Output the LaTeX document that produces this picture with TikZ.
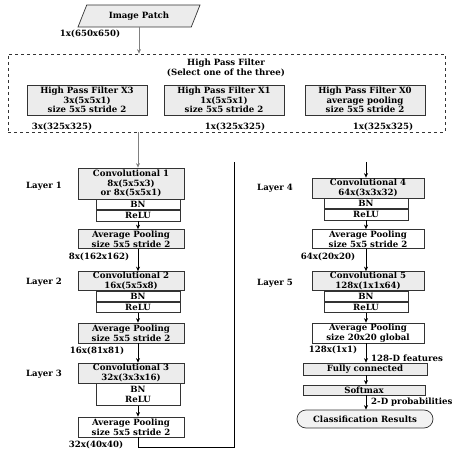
\documentclass[tikz,border=0pt]{standalone}
\usepackage{fontspec}
\setmainfont{DejaVu Serif}
\usetikzlibrary{arrows.meta, positioning, shapes.geometric}

\begin{document}
\begin{tikzpicture}[x=1pt, y=-1pt, font=\bfseries\fontsize{8.6}{9.6}\selectfont,
    box/.style={draw=black!80, line width=0.7pt, rectangle, fill=gray!15, minimum width=106pt, align=center, inner sep=0.5pt},
    sub/.style={draw=black!80, line width=0.7pt, rectangle, fill=white, minimum width=84pt, minimum height=10.5pt, inner sep=0pt, align=center},
    arr/.style={-{Stealth[length=4.5pt, width=4pt]}, line width=0.8pt},
    lab/.style={inner sep=0pt}]
    \useasboundingbox (0,0) rectangle (474,449);

    % 输入
    \node[draw=black!80, line width=0.7pt, trapezium, trapezium left angle=60, trapezium right angle=120,
        trapezium stretches body, fill=gray!15, minimum width=122pt, minimum height=22pt] (patch) at (139,16) {Image Patch};
    \node[lab] (insize) at (90,34) {1x(650x650)};

    % 高通滤波
    \node[draw=black!80, dashed, line width=0.7pt, minimum width=437pt, minimum height=78pt] (hpf) at (226.5,93) {};
    \node[lab, align=center] (hpftitle) at (226,68) {High Pass Filter\\(Select one of the three)};
    \foreach \n/\x/\t in {X3/87/3x(5x5x1), X1/224/1x(5x5x1), X0/365/average pooling} {
        \node[box, minimum width=120pt, minimum height=30pt] (hp\n) at (\x,100) {High Pass Filter \n\\\t\\size 5x5 stride 2};
    }
    \foreach \x/\t [count=\i] in {62/3x(325x325), 235/1x(325x325), 383/1x(325x325)} {
        \node[lab] (hpout\i) at (\x,127) {\t};
    }
    \draw[arr, gray] (patch.south) -- (patch.south |- hpf.north);

    % 左列
    \node[box, minimum height=31pt] (conv1) at (131,183.5) {Convolutional 1\\8x(5x5x3)\\or 8x(5x5x1)};
    \node[sub, anchor=north] (bn1) at (138,199) {BN};
    \node[sub, below=0pt of bn1] (relu1) {ReLU};
    \node[box, minimum height=19pt] (pool1) at (131,239) {Average Pooling\\size 5x5 stride 2};
    \node[lab] (out1) at (99,257) {8x(162x162)};

    \node[box, minimum height=19pt] (conv2) at (131,281) {Convolutional 2\\16x(5x5x8)};
    \node[sub, anchor=north] (bn2) at (138,290.5) {BN};
    \node[sub, below=0pt of bn2] (relu2) {ReLU};
    \node[box, minimum height=20pt] (pool2) at (131,333) {Average Pooling\\size 5x5 stride 2};
    \node[lab] (out2) at (97,351) {16x(81x81)};

    \node[box, minimum height=20pt] (conv3) at (131,373) {Convolutional 3\\32x(3x3x16)};
    \node[sub, anchor=north, minimum height=22pt] (bn3) at (138,383) {BN\\ReLU};
    \node[box, minimum height=20pt, fill=white] (pool3) at (131,427) {Average Pooling\\size 5x5 stride 2};
    \node[lab] (out3) at (96,445) {32x(40x40)};

    \draw[arr, gray] (bn1 |- hpf.south) -- (bn1 |- conv1.north);
    \draw[arr] (relu1) -- (bn1 |- pool1.north);
    \draw[arr] (bn1 |- pool1.south) -- (bn1 |- conv2.north);
    \draw[arr] (relu2) -- (bn2 |- pool2.north);
    \draw[arr] (bn2 |- pool2.south) -- (bn2 |- conv3.north);
    \draw[arr] (bn3) -- (bn3 |- pool3.north);

    % 换列
    \coordinate (turn) at (234,162);
    \coordinate (gap) at (366,162);
    \draw[line width=0.8pt] (bn3 |- pool3.south) -- ++(0,10) -| (turn);

    % 右列
    \node[box, minimum width=112pt, minimum height=20pt] (conv4) at (368,188) {Convolutional 4\\64x(3x3x32)};
    \node[sub, anchor=north] (bn4) at (366,198) {BN};
    \node[sub, below=0pt of bn4] (relu4) {ReLU};
    \node[box, minimum width=112pt, minimum height=19pt, fill=white] (pool4) at (368,239) {Average Pooling\\size 5x5 stride 2};
    \node[lab] (out4) at (328,257) {64x(20x20)};

    \node[box, minimum width=112pt, minimum height=19pt] (conv5) at (368,281) {Convolutional 5\\128x(1x1x64)};
    \node[sub, anchor=north] (bn5) at (366,290.5) {BN};
    \node[sub, below=0pt of bn5] (relu5) {ReLU};
    \node[box, minimum width=112pt, minimum height=20pt, fill=white] (pool5) at (368,333) {Average Pooling\\size 20x20 global};
    \node[lab] (out5) at (333,350) {128x(1x1)};

    \node[box, minimum width=124pt, minimum height=12pt, inner sep=0pt] (fc) at (365,369) {Fully connected};
    \node[box, minimum width=122pt, minimum height=10pt, inner sep=0pt] (soft) at (364,390) {Softmax};
    \node[draw=black!80, line width=0.7pt, rounded corners=9pt, fill=gray!10, minimum width=136pt, minimum height=18pt] (cls) at (365,419) {Classification Results};
    \node[lab, anchor=west] (feat) at (371,358) {128-D features};
    \node[lab, anchor=west] (prob) at (371,402) {2-D probabilities};

    \draw[arr] (gap) -- (gap |- conv4.north);
    \draw[arr] (relu4) -- (bn4 |- pool4.north);
    \draw[arr] (bn4 |- pool4.south) -- (bn4 |- conv5.north);
    \draw[arr] (relu5) -- (bn5 |- pool5.north);
    \draw[arr] (bn5 |- pool5.south) -- (bn5 |- fc.north);
    \draw[arr] (bn5 |- fc.south) -- (bn5 |- soft.north);
    \draw[arr] (bn5 |- soft.south) -- (bn5 |- cls.north);

    % 层标签
    \foreach \i/\x/\y in {1/44/186, 2/44/282, 3/44/374, 4/275/188, 5/275/283} {
        \node[lab] (layer\i) at (\x,\y) {Layer \i};
    }
\end{tikzpicture}
\end{document}
